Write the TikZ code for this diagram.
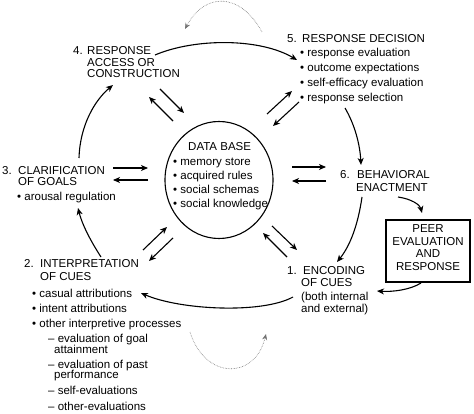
\documentclass[tikz,border=0pt]{standalone}
\usepackage{fontspec}
\setmainfont{Liberation Sans}
\usetikzlibrary{arrows.meta,shapes.geometric}
\begin{document}
\begin{tikzpicture}[x=1pt,y=-1pt,
  lbl/.style={anchor=base west, inner sep=0pt, font=\fontsize{11.5}{13}\selectfont},
  clbl/.style={anchor=base, inner sep=0pt, font=\fontsize{11.5}{13}\selectfont},
  arr/.style={line width=1.1pt, -{Stealth[length=7pt,width=6pt,inset=2pt]}},
  faint/.style={line width=0.6pt, black!55, densely dotted, -{Stealth[length=6pt,width=5pt,inset=2pt]}}]
\useasboundingbox (0,0) rectangle (474,414);

% data base
\node[ellipse, draw, line width=1.1pt, minimum width=108pt, minimum height=117pt, inner sep=0pt] (db) at (219,180) {};
\node[lbl] (dbt) at (188,151) {DATA BASE};
\node[lbl] (db1) at (173,165.5) {• memory store};
\node[lbl] (db2) at (173,180) {• acquired rules};
\node[lbl] (db3) at (173,194) {• social schemas};
\node[lbl] (db4) at (173,208) {• social knowledge};

% step 4
\node[lbl] (s4n) at (73,55) {4.};
\node[lbl] (s4a) at (87,55) {RESPONSE};
\node[lbl] (s4b) at (87,66.5) {ACCESS OR};
\node[lbl] (s4c) at (87,78) {CONSTRUCTION};

% step 5
\node[lbl] (s5n) at (287,43) {5.};
\node[lbl] (s5a) at (302,43) {RESPONSE DECISION};
\node[lbl] (s5b) at (300,57) {• response evaluation};
\node[lbl] (s5c) at (300,72) {• outcome expectations};
\node[lbl] (s5d) at (300,87) {• self-efficacy evaluation};
\node[lbl] (s5e) at (300,101.5) {• response selection};

% step 3
\node[lbl] (s3n) at (2,174.5) {3.};
\node[lbl] (s3a) at (18,174.5) {CLARIFICATION};
\node[lbl] (s3b) at (18,186) {OF GOALS};
\node[lbl] (s3c) at (17,200.5) {• arousal regulation};

% step 6
\node[lbl] (s6n) at (340,179) {6.};
\node[lbl] (s6a) at (357,179) {BEHAVIORAL};
\node[lbl] (s6b) at (356,192) {ENACTMENT};

% peer box
\draw[line width=1.1pt] (386,220) rectangle (470,282);
\node[clbl] (p1) at (428,233) {PEER};
\node[clbl] (p2) at (428,246) {EVALUATION};
\node[clbl] (p3) at (428,258) {AND};
\node[clbl] (p4) at (428,270) {RESPONSE};

% step 2
\node[lbl] (s2n) at (24,268) {2.};
\node[lbl] (s2a) at (40,268) {INTERPRETATION};
\node[lbl] (s2b) at (40,280.5) {OF CUES};
\node[lbl] (s2c) at (32,297) {• casual attributions};
\node[lbl] (s2d) at (32,312) {• intent attributions};
\node[lbl] (s2e) at (32,327) {• other interpretive processes};
\node[lbl] (s2f) at (48,342) {– evaluation of goal};
\node[lbl] (s2g) at (54,353) {attainment};
\node[lbl] (s2h) at (48,368) {– evaluation of past};
\node[lbl] (s2i) at (54,378.5) {performance};
\node[lbl] (s2j) at (48,394) {– self-evaluations};
\node[lbl] (s2k) at (48,410) {– other-evaluations};

% step 1
\node[lbl] (s1n) at (287,275) {1.};
\node[lbl] (s1a) at (303,275) {ENCODING};
\node[lbl] (s1b) at (301,287) {OF CUES};
\node[lbl] (s1c) at (301,300) {(both internal};
\node[lbl] (s1d) at (301,312) {and external)};

% coordinates for the cycle
\coordinate (c1s) at (293,297);  \coordinate (c2e) at (141,293);
\coordinate (pbs) at (421,283);  \coordinate (c1e) at (377,291);
\coordinate (c6p) at (398,197);  \coordinate (pbe) at (422,213);
\coordinate (c6s) at (362,197);  \coordinate (c1t) at (337,262);
\coordinate (c5s) at (345,108);  \coordinate (c6e) at (361,165);
\coordinate (c4s) at (155,55);   \coordinate (c5e) at (297,60);
\coordinate (c3s) at (79,158);   \coordinate (c4e) at (113,85);
\coordinate (c2s) at (101,257);  \coordinate (c3e) at (78,208);
\coordinate (f1s) at (262,32);   \coordinate (f1e) at (185,29);
\coordinate (f2s) at (190,332);  \coordinate (f2e) at (266,334);

\draw[arr] (c1s) .. controls (262,314) and (180,310) .. (c2e);
\draw[arr] (pbs) .. controls (410,290) and (392,292) .. (c1e);
\draw[arr] (c6p) .. controls (412,199) and (420,205) .. (pbe);
\draw[arr] (c6s) .. controls (358,225) and (350,246) .. (c1t);
\draw[arr] (c5s) .. controls (355,125) and (360,145) .. (c6e);
\draw[arr] (c4s) .. controls (195,38) and (260,38) .. (c5e);
\draw[arr] (c3s) .. controls (80,125) and (95,100) .. (c4e);
\draw[arr] (c2s) .. controls (90,240) and (82,224) .. (c3e);

\draw[faint] (f1s) .. controls (240,-8) and (205,-8) .. (f1e);
\draw[faint] (f2s) .. controls (205,380) and (255,380) .. (f2e);

% double arrows between data base and steps
\coordinate (a4a) at (160,89);  \coordinate (a4b) at (184,113);
\coordinate (a4c) at (173,121); \coordinate (a4d) at (149,97);
\coordinate (a5a) at (267,114); \coordinate (a5b) at (292,91);
\coordinate (a5c) at (299,102); \coordinate (a5d) at (273,126);
\coordinate (a3a) at (113,168); \coordinate (a3b) at (148,168);
\coordinate (a3c) at (148,180); \coordinate (a3d) at (113,180);
\coordinate (a6a) at (292,167); \coordinate (a6b) at (326,167);
\coordinate (a6c) at (326,181); \coordinate (a6d) at (292,181);
\coordinate (a2a) at (143,250); \coordinate (a2b) at (167,227);
\coordinate (a2c) at (173,238); \coordinate (a2d) at (149,261);
\coordinate (a1a) at (272,226); \coordinate (a1b) at (297,250);
\coordinate (a1c) at (287,257); \coordinate (a1d) at (263,233);
\foreach \p in {4,5,3,6,2,1}{
  \draw[arr] (a\p a) -- (a\p b);
  \draw[arr] (a\p c) -- (a\p d);
}
\end{tikzpicture}
\end{document}
